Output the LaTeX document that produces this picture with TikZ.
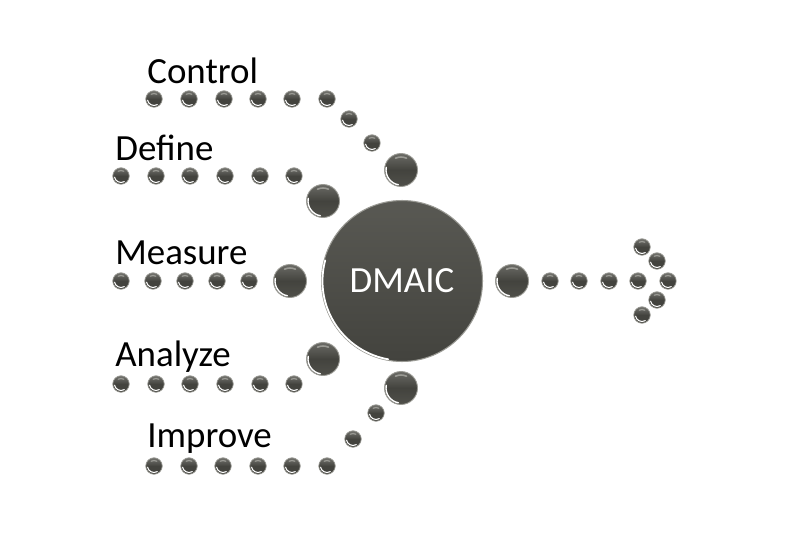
\documentclass[tikz,border=0pt]{standalone}
\usepackage{fontspec}
\setmainfont{Carlito}
\definecolor{beadgray}{HTML}{50504A}
\definecolor{beadlight}{HTML}{9A9A94}
\definecolor{beaddark}{HTML}{43433E}
\tikzset{
  bead/.style={circle,inner sep=0pt,outer sep=0pt,draw=beadlight,line width=0.4pt,
    top color=beadgray!80!white,bottom color=beaddark,middle color=beaddark,minimum size=0.33cm},
  knob/.style={circle,inner sep=0pt,outer sep=0pt,draw=beadlight,line width=0.5pt,
    top color=beadgray!85!white,bottom color=beadgray,middle color=beaddark,minimum size=0.66cm},
  hub/.style={circle,inner sep=0pt,outer sep=0pt,draw=beadlight,line width=0.6pt,
    top color=beadgray!95!white,bottom color=beaddark,minimum size=3.22cm,
    text=white,font=\fontsize{21}{25}\selectfont},
  lbl/.style={anchor=west,inner sep=0pt,text=black,font=\fontsize{21}{25}\selectfont},
  rim/.style={white,line cap=round}
}
\begin{document}
\begin{tikzpicture}[x=0.02cm,y=-0.02cm]
\useasboundingbox (0,0) rectangle (800,533);
\fill[white] (0,0) rectangle (800,533);
% centre
\node[hub] (dmaic) at (402,281) {DMAIC};
\draw[rim,line width=1pt] (dmaic.center) ++(100:79.5) arc (100:195:79.5);
% big knobs round the centre
\foreach \name/\x/\y in {kc/401/170,kd/323/201,km/290/281,ka/323/359,ki/401/388,kr/512/281}{
  \node[knob] (\name) at (\x,\y) {};
  \draw[rim,line width=0.8pt] (\name.center) ++(100:15) arc (100:190:15);
  \draw[beadlight,line width=0.9pt,line cap=round] (\name.center) ++(245:13) arc (245:295:13);
}
% bead rows
\foreach \name/\x/\y in {
  c1/154/99,c2/189/99,c3/224/99,c4/258/99,c5/292/99,c6/327/99,c7/349/119,c8/372/143,
  d1/121/176,d2/156/176,d3/190/176,d4/225/176,d5/260/176,d6/294/176,
  m1/121/281,m2/153/281,m3/185/281,m4/217/281,m5/249/281,
  a1/121/384,a2/156/384,a3/190/384,a4/225/384,a5/260/384,a6/294/384,
  i1/154/466,i2/189/466,i3/223/466,i4/258/466,i5/292/466,i6/327/466,i7/353/439,i8/376/413,
  r1/550/281,r2/579/281,r3/609/281,r4/638/281,r5/668/281,
  r6/642/247,r7/657/261,r8/657/300,r9/642/315}{
  \node[bead] (\name) at (\x,\y) {};
  \draw[rim,line width=0.6pt] (\name.center) ++(60:6.5) arc (60:170:6.5);
  \draw[beadlight,line width=0.7pt,line cap=round] (\name.center) ++(240:5.5) arc (240:300:5.5);
}
% labels
\node[lbl] (control) at (147,71) {Control};
\node[lbl] (define) at (115,148) {Define};
\node[lbl] (measure) at (115,253) {Measure};
\node[lbl] (analyze) at (115,357) {Analyze};
\node[lbl] (improve) at (147,439) {Improve};
\end{tikzpicture}
\end{document}
